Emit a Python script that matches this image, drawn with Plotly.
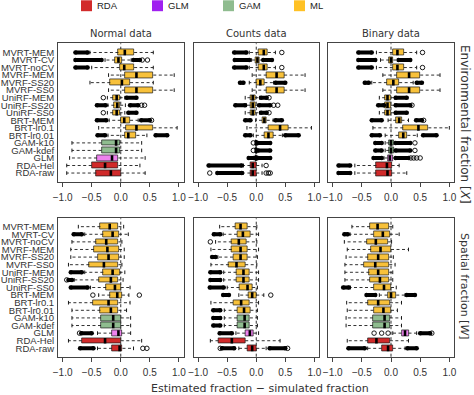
import plotly.graph_objects as go
from plotly.subplots import make_subplots

# ---------------- data ----------------
METHODS = ["MVRT-MEM", "MVRT-CV", "MVRT-noCV", "MVRF-MEM", "MVRF-SS20", "MVRF-SS0",
           "UniRF-MEM", "UniRF-SS20", "UniRF-SS0", "BRT-MEM", "BRT-lr0.1", "BRT-lr0.01",
           "GAM-k10", "GAM-kdef", "GLM", "RDA-Hel", "RDA-raw"]
METHOD_GROUP = ["ML", "ML", "ML", "ML", "ML", "ML", "ML", "ML", "ML", "ML", "ML", "ML",
                "GAM", "GAM", "GLM", "RDA", "RDA"]
GROUPS = ["RDA", "GLM", "GAM", "ML"]
DATA_TYPES = ["Normal data", "Counts data", "Binary data"]
FRACTIONS = ["Environmental fraction [<i>X</i>]", "Spatial fraction [<i>W</i>]"]
X_TICKS = [-1.0, -0.5, 0.0, 0.5, 1.0]
ZERO_REF = 0.0

# (lower whisker, Q1, median, Q3, upper whisker) per method
ENV_NORMAL_BOX = [
    (-0.53, -0.04, 0.07, 0.23, 0.56), (-0.27, -0.10, -0.04, 0.02, 0.18),
    (-0.50, -0.02, 0.06, 0.23, 0.56), (-0.21, 0.07, 0.27, 0.56, 0.92),
    (-0.53, -0.18, 0.02, 0.16, 0.56), (-0.21, 0.07, 0.27, 0.56, 0.92),
    (-0.23, -0.13, -0.07, -0.02, 0.07), (-0.22, -0.11, -0.06, -0.01, 0.08),
    (-0.23, -0.13, -0.07, -0.02, 0.07), (-0.20, 0.00, 0.06, 0.16, 0.30),
    (-0.38, 0.09, 0.27, 0.56, 0.97), (-0.22, 0.07, 0.13, 0.27, 0.45),
    (-0.84, -0.33, -0.08, -0.02, 0.36), (-0.84, -0.33, -0.08, -0.02, 0.36),
    (-0.88, -0.41, -0.15, -0.04, 0.42), (-0.93, -0.50, -0.27, -0.04, 0.33),
    (-0.93, -0.42, -0.17, 0.00, 0.42)]
# dense runs of outliers: (method index, from, to)
ENV_NORMAL_BANDS = [(0, -0.78, -0.57), (1, -0.78, -0.33), (1, 0.22, 0.33), (2, -0.78, -0.57),
                    (6, 0.10, 0.27), (7, -0.41, -0.26), (7, 0.16, 0.30), (8, 0.13, 0.27),
                    (9, -0.41, -0.25), (9, 0.35, 0.50), (11, -0.40, -0.27), (11, 0.60, 0.80)]
# single outliers: (method index, value)
ENV_NORMAL_POINTS = [(1, 0.37), (1, 0.46), (6, -0.30), (7, 0.36), (7, 0.41), (8, -0.30), (9, 0.53)]

ENV_COUNTS_BOX = [
    (-0.12, 0.04, 0.13, 0.20, 0.33), (-0.08, -0.02, 0.02, 0.06, 0.11),
    (-0.12, 0.04, 0.13, 0.20, 0.33), (-0.07, 0.18, 0.35, 0.48, 0.84),
    (-0.12, 0.01, 0.07, 0.14, 0.30), (-0.07, 0.18, 0.35, 0.48, 0.84),
    (-0.19, -0.10, -0.06, -0.02, 0.06), (-0.17, -0.10, -0.06, -0.02, 0.03),
    (-0.19, -0.10, -0.06, -0.02, 0.06), (-0.01, 0.10, 0.14, 0.18, 0.29),
    (-0.16, 0.21, 0.41, 0.55, 0.95), (-0.05, 0.14, 0.21, 0.29, 0.45),
    (-0.02, -0.01, 0.00, 0.01, 0.02), (-0.02, -0.01, 0.00, 0.01, 0.02),
    (-0.02, -0.01, 0.00, 0.01, 0.02), (-0.22, -0.10, -0.06, 0.00, 0.10),
    (-0.22, -0.10, -0.06, 0.00, 0.10)]
ENV_COUNTS_BANDS = [(0, -0.38, -0.17), (1, -0.37, -0.12), (1, 0.12, 0.27), (2, -0.38, -0.17),
                    (4, -0.28, -0.22), (4, 0.33, 0.50), (6, 0.08, 0.18), (7, -0.36, -0.19),
                    (7, 0.05, 0.24), (8, 0.08, 0.18), (9, -0.19, -0.10), (9, 0.33, 0.44),
                    (11, -0.19, -0.10), (11, 0.50, 0.73), (12, 0.03, 0.24), (13, 0.03, 0.24),
                    (14, -0.13, -0.04), (14, 0.03, 0.24), (15, -0.82, -0.25), (16, -0.67, -0.25)]
ENV_COUNTS_POINTS = [(0, 0.44), (2, 0.44), (6, 0.22), (7, 0.30), (7, 0.37), (8, 0.22),
                     (12, -0.05), (13, -0.05), (15, 0.17), (16, -0.80), (16, 0.17),
                     (16, 0.21), (16, 0.24)]

ENV_BINARY_BOX = [
    (-0.25, 0.03, 0.11, 0.22, 0.44), (-0.18, -0.03, 0.00, 0.04, 0.12),
    (-0.25, 0.03, 0.11, 0.22, 0.44), (-0.14, 0.10, 0.31, 0.50, 0.84),
    (-0.33, -0.07, 0.04, 0.14, 0.38), (-0.14, 0.10, 0.31, 0.50, 0.84),
    (-0.20, -0.10, -0.06, 0.00, 0.06), (-0.11, -0.10, -0.06, 0.00, 0.06),
    (-0.20, -0.10, -0.06, 0.00, 0.06), (-0.05, 0.09, 0.14, 0.18, 0.30),
    (-0.31, 0.21, 0.47, 0.64, 1.00), (-0.10, 0.13, 0.21, 0.28, 0.45),
    (-0.10, -0.03, 0.00, 0.05, 0.07), (-0.10, -0.03, 0.00, 0.05, 0.07),
    (-0.12, -0.06, -0.02, 0.03, 0.07), (-0.62, -0.25, -0.07, 0.01, 0.14),
    (-0.62, -0.25, -0.06, 0.01, 0.27)]
ENV_BINARY_BANDS = [(0, -0.56, -0.33), (1, -0.56, -0.27), (1, 0.13, 0.33), (2, -0.56, -0.33),
                    (4, -0.45, -0.38), (4, 0.44, 0.53), (6, 0.08, 0.27), (7, -0.22, -0.12),
                    (7, 0.08, 0.33), (8, 0.08, 0.27), (9, -0.33, -0.16), (9, 0.43, 0.53),
                    (11, -0.33, -0.19), (11, 0.55, 0.78), (12, -0.27, -0.16), (12, 0.08, 0.33),
                    (13, -0.27, -0.16), (13, 0.08, 0.33), (14, -0.30, -0.16), (14, 0.08, 0.30),
                    (15, -0.90, -0.70), (16, -0.90, -0.70)]
ENV_BINARY_POINTS = [(0, 0.54), (2, 0.54), (7, 0.36), (9, 0.56), (12, 0.41), (13, 0.41),
                     (14, 0.34), (14, 0.39), (14, 0.44), (14, 0.50)]

SPA_NORMAL_BOX = [
    (-0.73, -0.35, -0.19, -0.04, 0.05), (-0.62, -0.30, -0.14, -0.03, 0.13),
    (-0.84, -0.42, -0.25, -0.04, 0.02), (-0.86, -0.46, -0.23, -0.03, 0.06),
    (-0.86, -0.40, -0.21, -0.03, 0.06), (-0.90, -0.54, -0.29, -0.04, 0.02),
    (-0.62, -0.30, -0.14, -0.02, 0.07), (-0.80, -0.37, -0.17, -0.04, 0.04),
    (-0.52, -0.25, -0.10, 0.00, 0.16), (-0.38, -0.18, -0.06, 0.02, 0.14),
    (-0.90, -0.48, -0.21, -0.04, 0.16), (-0.84, -0.35, -0.17, -0.04, 0.10),
    (-0.84, -0.34, -0.13, 0.00, 0.17), (-0.84, -0.34, -0.13, 0.00, 0.17),
    (-0.40, -0.15, -0.04, 0.02, 0.17), (-0.90, -0.67, -0.27, 0.00, 0.36),
    (-0.40, -0.15, -0.02, 0.03, 0.22)]
SPA_NORMAL_BANDS = [(1, -0.81, -0.67), (6, -0.86, -0.67), (7, -0.90, -0.84), (8, -0.86, -0.57),
                    (14, -0.68, -0.50), (16, -0.70, -0.47)]
SPA_NORMAL_POINTS = [(7, -0.93), (9, -0.48), (9, 0.32), (14, -0.71), (16, 0.38), (16, 0.45)]

SPA_COUNTS_BOX = [
    (-0.63, -0.36, -0.27, -0.15, 0.01), (-0.57, -0.33, -0.23, -0.10, 0.04),
    (-0.70, -0.42, -0.30, -0.17, 0.01), (-0.78, -0.42, -0.27, -0.15, 0.04),
    (-0.66, -0.40, -0.27, -0.15, 0.02), (-0.78, -0.47, -0.34, -0.19, 0.01),
    (-0.56, -0.34, -0.22, -0.11, 0.04), (-0.56, -0.34, -0.22, -0.11, 0.04),
    (-0.50, -0.29, -0.15, -0.07, 0.02), (-0.30, -0.13, -0.07, 0.00, 0.13),
    (-0.78, -0.40, -0.26, -0.11, 0.04), (-0.55, -0.33, -0.21, -0.10, 0.02),
    (-0.55, -0.33, -0.20, -0.11, 0.02), (-0.55, -0.33, -0.20, -0.11, 0.02),
    (-0.35, -0.19, -0.11, -0.05, 0.04), (-0.79, -0.65, -0.42, -0.19, 0.41),
    (-0.30, -0.15, -0.07, 0.00, 0.17)]
SPA_COUNTS_BANDS = [(1, -0.73, -0.62), (4, -0.76, -0.70), (6, -0.79, -0.62), (7, -0.79, -0.62),
                    (8, -0.80, -0.56), (9, -0.57, -0.47), (11, -0.74, -0.62), (12, -0.74, -0.62),
                    (13, -0.74, -0.62), (14, -0.63, -0.42), (16, -0.59, -0.38), (16, 0.23, 0.50)]
SPA_COUNTS_POINTS = [(2, -0.79), (9, 0.25), (16, -0.62), (16, 0.54)]

SPA_BINARY_BOX = [
    (-0.67, -0.36, -0.23, -0.03, 0.03), (-0.70, -0.30, -0.14, -0.02, 0.14),
    (-0.80, -0.41, -0.26, -0.05, 0.01), (-0.75, -0.34, -0.18, 0.00, 0.30),
    (-0.77, -0.39, -0.22, -0.03, 0.04), (-0.79, -0.47, -0.27, -0.03, 0.07),
    (-0.79, -0.37, -0.22, -0.03, 0.03), (-0.79, -0.36, -0.19, -0.03, 0.03),
    (-0.70, -0.30, -0.12, 0.00, 0.09), (-0.20, -0.06, 0.00, 0.09, 0.24),
    (-0.76, -0.39, -0.22, -0.02, 0.18), (-0.75, -0.30, -0.13, 0.00, 0.11),
    (-0.77, -0.31, -0.11, -0.02, 0.18), (-0.77, -0.31, -0.11, -0.02, 0.18),
    (0.03, 0.18, 0.24, 0.30, 0.44), (-0.75, -0.39, -0.25, -0.02, 0.30),
    (-0.40, -0.16, -0.05, 0.03, 0.24)]
SPA_BINARY_BANDS = [(1, -0.80, -0.74), (8, -0.82, -0.72), (9, -0.42, -0.27), (9, 0.27, 0.41),
                    (14, 0.50, 0.67), (16, -0.73, -0.45), (16, 0.28, 0.44)]
SPA_BINARY_POINTS = [(14, -0.29), (14, -0.16), (14, -0.05), (14, 0.70)]

# ---------------- styles ----------------
LEGEND_COLORS = {"RDA": "#d22b2b", "GLM": "#a020f0", "GAM": "#8fbc8f", "ML": "#ffc125"}
BOX_COLORS = {"RDA": "#d02a2a", "GLM": "#ee82ee", "GAM": "#8fbc8f", "ML": "#f8c13a"}
INK = "#1a1a1a"
TXT = "#333333"
W, H = 474, 395
COL_PX = [(58.0, 183.5), (193.5, 319.0), (328.0, 454.0)]
ROW_PX = [(43.3, 181.7), (218.3, 356.7)]
Y_RANGES = [[17.15, -1.22], [17.1, -1.1]]

PANELS = [
    (1, 1, ENV_NORMAL_BOX, ENV_NORMAL_BANDS, ENV_NORMAL_POINTS),
    (1, 2, ENV_COUNTS_BOX, ENV_COUNTS_BANDS, ENV_COUNTS_POINTS),
    (1, 3, ENV_BINARY_BOX, ENV_BINARY_BANDS, ENV_BINARY_POINTS),
    (2, 1, SPA_NORMAL_BOX, SPA_NORMAL_BANDS, SPA_NORMAL_POINTS),
    (2, 2, SPA_COUNTS_BOX, SPA_COUNTS_BANDS, SPA_COUNTS_POINTS),
    (2, 3, SPA_BINARY_BOX, SPA_BINARY_BANDS, SPA_BINARY_POINTS),
]

fig = make_subplots(rows=2, cols=3)

idx = list(range(len(METHODS)))
for r, c, box, bands, pts in PANELS:
    lo = [b[0] for b in box]
    q1 = [b[1] for b in box]
    med = [b[2] for b in box]
    q3 = [b[3] for b in box]
    hi = [b[4] for b in box]

    # dashed whiskers
    wx, wy = [], []
    for i in idx:
        wx += [q3[i], hi[i], None, q1[i], lo[i], None]
        wy += [i, i, None, i, i, None]
    fig.add_trace(go.Scatter(x=wx, y=wy, mode="lines", hoverinfo="skip",
                             line=dict(color=INK, width=0.9, dash="3px,2.5px"),
                             showlegend=False), row=r, col=c)
    # staples
    fig.add_trace(go.Scatter(x=lo + hi, y=idx + idx, mode="markers", hoverinfo="skip",
                             marker=dict(symbol="line-ns", size=2.6, color=INK,
                                         line=dict(color=INK, width=1)),
                             showlegend=False), row=r, col=c)
    # boxes
    fig.add_trace(go.Bar(y=idx, x=[q3[i] - q1[i] for i in idx], base=q1, orientation="h",
                         width=0.76,
                         marker=dict(color=[BOX_COLORS[g] for g in METHOD_GROUP],
                                     line=dict(color=INK, width=0.7)),
                         showlegend=False), row=r, col=c)
    # medians
    fig.add_trace(go.Scatter(x=med, y=idx, mode="markers", hoverinfo="skip",
                             marker=dict(symbol="line-ns", size=4.0, color="black",
                                         line=dict(color="black", width=2.6)),
                             showlegend=False), row=r, col=c)
    # dense outlier runs
    bx, by = [], []
    for i, a, b in bands:
        bx += [a, b, None]
        by += [i, i, None]
    fig.add_trace(go.Scatter(x=bx, y=by, mode="lines+markers", hoverinfo="skip",
                             line=dict(color="black", width=4),
                             marker=dict(symbol="circle", size=4.5, color="black"),
                             showlegend=False), row=r, col=c)
    # single outliers
    fig.add_trace(go.Scatter(x=[p[1] for p in pts], y=[p[0] for p in pts], mode="markers",
                             hoverinfo="skip",
                             marker=dict(symbol="circle-open", size=4.5, color="black",
                                         line=dict(color="black", width=0.9)),
                             showlegend=False), row=r, col=c)
    # reference line at zero
    fig.add_vline(x=ZERO_REF, line=dict(color=INK, width=0.9, dash="3px,2.5px"),
                  layer="below", row=r, col=c)

# axes
for r in (1, 2):
    for c in (1, 2, 3):
        n = (r - 1) * 3 + c
        xs = "xaxis" if n == 1 else f"xaxis{n}"
        ys = "yaxis" if n == 1 else f"yaxis{n}"
        x0, x1 = COL_PX[c - 1]
        y0, y1 = ROW_PX[r - 1]
        fig.layout[xs].update(
            domain=[x0 / W, x1 / W], range=[-1.08, 1.08], tickvals=X_TICKS,
            tickformat=".1f", showgrid=False, zeroline=False, showline=True, mirror=True,
            linecolor="#444", linewidth=1, ticks="outside", ticklen=4, tickwidth=1,
            tickcolor="#444", tickfont=dict(family="Liberation Sans, Arial", size=10, color=TXT),
            ticklabelstandoff=2, automargin=False, fixedrange=True)
        fig.layout[ys].update(
            domain=[1 - y1 / H, 1 - y0 / H], range=Y_RANGES[r - 1], tickvals=idx,
            ticktext=METHODS, showticklabels=(c == 1), showgrid=False, zeroline=False,
            showline=True, mirror=True, linecolor="#444", linewidth=1, ticks="",
            tickfont=dict(family="Liberation Sans, Arial", size=9.5, color=TXT),
            ticklabelstandoff=1, automargin=False, fixedrange=True)

annotations = []
for k, t in enumerate(DATA_TYPES):
    x0, x1 = COL_PX[k]
    annotations.append(dict(text=t, x=(x0 + x1) / 2 / W, y=1 - 33.5 / H, xref="paper", yref="paper",
                            showarrow=False, xanchor="center", yanchor="middle",
                            font=dict(family="DejaVu Sans", size=10, color=TXT)))
annotations.append(dict(text=FRACTIONS[0], x=465 / W, y=1 - 124 / H, xref="paper", yref="paper",
                        showarrow=False, textangle=90, xanchor="center", yanchor="middle",
                        font=dict(family="DejaVu Sans", size=12, color=TXT)))
annotations.append(dict(text=FRACTIONS[1], x=465 / W, y=1 - 286 / H, xref="paper", yref="paper",
                        showarrow=False, textangle=90, xanchor="center", yanchor="middle",
                        font=dict(family="DejaVu Sans", size=11, color=TXT)))
annotations.append(dict(text="Estimated fraction − simulated fraction", x=260 / W, y=1 - 388.5 / H,
                        xref="paper", yref="paper", showarrow=False, xanchor="center",
                        yanchor="middle", font=dict(family="DejaVu Sans", size=11, color=TXT)))

# legend (manual, as in the original figure header)
shapes = []
for k, g in enumerate(GROUPS):
    left = 81 + k * 71
    shapes.append(dict(type="rect", xref="paper", yref="paper", x0=left / W, x1=(left + 11) / W,
                       y0=1 - 11.2 / H, y1=1 - 0.3 / H, fillcolor=LEGEND_COLORS[g],
                       line=dict(width=0)))
    annotations.append(dict(text=g, x=(left + 14) / W, y=1 - 6 / H, xref="paper", yref="paper",
                            showarrow=False, xanchor="left", yanchor="middle",
                            font=dict(family="Liberation Sans, Arial", size=9.5, color="#222")))

fig.update_layout(
    width=W, height=H, autosize=False, template="none",
    margin=dict(l=0, r=0, t=0, b=0, pad=0),
    paper_bgcolor="white", plot_bgcolor="white",
    font=dict(family="Liberation Sans, Arial", size=10, color=TXT),
    showlegend=False, bargap=0, barmode="overlay",
    annotations=annotations,
)
for s in shapes:
    fig.add_shape(**s)

fig.write_html("out.html", config={"displayModeBar": False},
               post_script="document.body.style.margin='0';document.body.style.overflow='hidden';")
